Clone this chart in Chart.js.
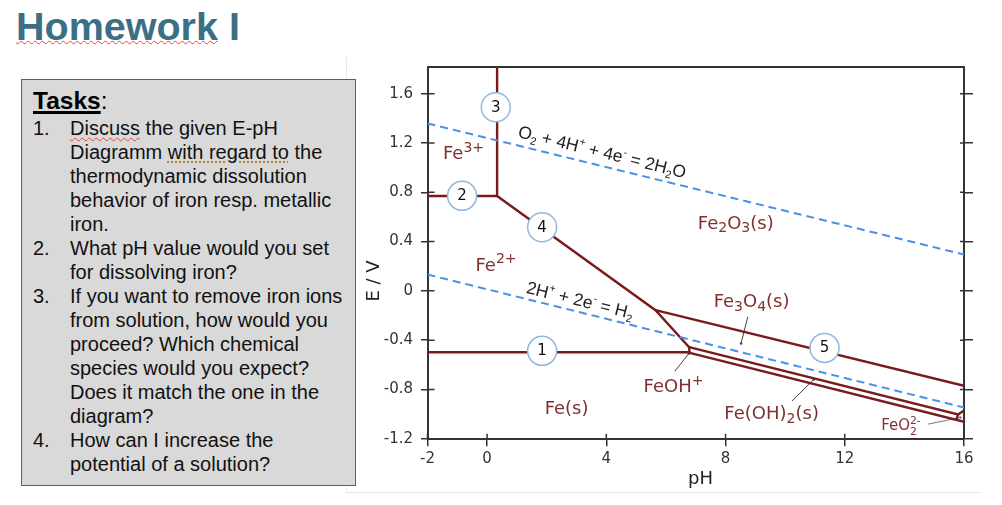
<!DOCTYPE html>
<html><head><meta charset="utf-8">
<script src="https://cdn.jsdelivr.net/npm/chart.js@4/dist/chart.umd.min.js"></script>
<style>
html,body{margin:0;padding:0;background:#fff;width:1002px;height:505px;overflow:hidden}
#title{position:absolute;left:16px;top:2px;font:bold 39.5px/48px "Liberation Sans",sans-serif;color:#3a6f85;white-space:pre}
#title .w{text-decoration:underline wavy #e2483f 1px;text-underline-offset:0px}
#edgeL{position:absolute;left:346px;top:57px;width:1px;height:435px;background:#e8e8ec}
#edgeB{position:absolute;left:346px;top:492px;width:634px;height:1px;background:#e3e6ec}
#box{position:absolute;left:21px;top:79px;width:333px;height:405px;background:#d9d9d9;border:1.5px solid #3d6b7e}
#tasks{position:absolute;left:33px;top:86px;font:24.5px/30px "Liberation Sans",sans-serif;color:#000}
#tasks b{text-decoration:underline;text-decoration-thickness:3px;text-underline-offset:2px}
#list{position:absolute;left:33px;top:116px;font:20px/24px "Liberation Sans",sans-serif;color:#111;white-space:pre}
#list .n{position:absolute;left:0}
#list .t{position:absolute;left:37px;width:300px}
.sp{text-decoration:underline wavy #e2483f 1px;text-underline-offset:2px}
.gr{text-decoration:underline dotted #b8862b 2px;text-underline-offset:2px}
canvas{position:absolute;left:346px;top:51px}
</style></head><body>
<div id="title"><span class="w">Homework</span> I</div>
<div id="edgeL"></div><div id="edgeB"></div>
<div id="box"></div>
<div id="tasks"><b>Tasks</b>:</div>
<div id="list">
<div class="n" style="top:0">1.</div><div class="t" style="top:0"><span class="sp">Discuss</span> the given E-pH
Diagramm <span class="gr">with regard to</span> the
thermodynamic dissolution
behavior of iron resp. metallic
iron.</div>
<div class="n" style="top:120px">2.</div><div class="t" style="top:120px">What pH value would you set
for dissolving iron?</div>
<div class="n" style="top:168px">3.</div><div class="t" style="top:168px">If you want to remove iron ions
from solution, how would you
proceed? Which chemical
species would you expect?
Does it match the one in the
diagram?</div>
<div class="n" style="top:312px">4.</div><div class="t" style="top:312px">How can I increase the
potential of a solution?</div>
</div>
<canvas id="c" width="634" height="441"></canvas>
<script>
const xTicks = [-2, 0, 4, 8, 12, 16];
const yTicks = [1.6, 1.2, 0.8, 0.4, 0, -0.4, -0.8, -1.2];

const waterO2 = [[-2, 1.359], [16, 0.295]];
const waterH2 = [[-2, 0.133], [16, -0.947]];

const line1 = [[-2, -0.498], [6.80, -0.498]];
const line2 = [[-2, 0.77], [0.335, 0.77]];
const line3 = [[0.335, 1.82], [0.335, 0.77]];
const line4 = [[0.335, 0.77], [5.65, -0.157], [6.77, -0.455], [6.80, -0.503]];
const line5 = [[5.65, -0.157], [16, -0.771]];
const feOH2Upper = [[6.77, -0.455], [6.88, -0.463], [15.8, -1.003], [16, -0.971]];
const feOH2Lower = [[6.80, -0.503], [16, -1.063]];
const feO2Side = [[15.8, -1.003], [15.75, -1.045]];

const leaderFeOH = [[6.30, -0.652], [6.77, -0.508]];
const leaderFe3O4 = [[8.745, -0.211], [8.52, -0.427]];
const leaderFeOH2 = [[10.23, -0.893], [10.96, -0.719]];
const leaderFeO2 = [[14.79, -1.082], [15.88, -1.028]];

const circleNames = ["1", "2", "3", "4", "5"];
const circleX = [1.845, -0.84, 0.29, 1.845, 11.32];
const circleY = [-0.487, 0.771, 1.49, 0.517, -0.463];

const regionNames = ["Fe^{3+}", "Fe^{2+}", "Fe_{2}O_{3}(s)", "Fe_{3}O_{4}(s)", "FeOH^{+}", "Fe(s)", "Fe(OH)_{2}(s)"];
const regionX = [-1.48, -0.39, 7.07, 7.6, 5.25, 1.93, 7.96];
const regionY = [1.069, 0.162, 0.506, -0.13, -0.825, -1.003, -1.041];
const smallName = "FeO~{2-|2}";
const smallAt = [13.22, -1.131];

const reactionO2 = "O_{2} + 4H^{+} + 4e^{-} = 2H_{2}O";
const reactionO2At = [1.01, 1.248];
const reactionH2 = "2H^{+} + 2e^{-} = H_{2}";
const reactionH2At = [1.285, -0.016];
const xAxisTitle = "pH";
const yAxisTitle = "E / V";

const MAROON = "#7a1a1a", LABEL = "#7f3030", BLUE = "#4a90e8", AXIS = "#333", DARK = "#444";
const pts = a => a.map(p => ({x: p[0], y: p[1]}));
const ln = (a, color, w, dash) => ({type: "scatter", data: pts(a), showLine: true, tension: 0,
  borderColor: color, backgroundColor: color, borderWidth: w, borderDash: dash || [], pointRadius: 0, pointHoverRadius: 0, borderJoinStyle: "miter"});
const leader = (a, color) => Object.assign(ln(a, color, 1), {pointRadius: [0, 1.3], pointBorderWidth: 0});

function tokens(s) {
  const re = /\^\{([^}]*)\}|_\{([^}]*)\}|~\{([^|}]*)\|([^}]*)\}|([^\^_~]+)/g, out = []; let m;
  while ((m = re.exec(s))) {
    if (m[1] !== undefined) out.push({k: "sup", t: m[1]});
    else if (m[2] !== undefined) out.push({k: "sub", t: m[2]});
    else if (m[3] !== undefined) out.push({k: "both", t: m[3], b: m[4]});
    else out.push({k: "n", t: m[5]});
  }
  return out;
}
function rich(ctx, x, y, s, size, color, angle, fam, ratio) {
  ctx.save();
  ctx.translate(x, y); ctx.rotate(angle || 0);
  ctx.fillStyle = color; ctx.textBaseline = "alphabetic"; ctx.textAlign = "left";
  const small = size * ratio; let cx = 0;
  for (const t of tokens(s)) {
    if (t.k === "n") { ctx.font = size + "px " + fam; ctx.fillText(t.t, cx, 0); cx += ctx.measureText(t.t).width; }
    else if (t.k === "sup") { ctx.font = small + "px " + fam; ctx.fillText(t.t, cx, -size * 0.42); cx += ctx.measureText(t.t).width; }
    else if (t.k === "sub") { ctx.font = small + "px " + fam; ctx.fillText(t.t, cx, size * 0.22); cx += ctx.measureText(t.t).width; }
    else { ctx.font = small + "px " + fam; ctx.fillText(t.t, cx, -size * 0.42); ctx.fillText(t.b, cx, size * 0.3); cx += ctx.measureText(t.t).width; }
  }
  ctx.restore();
}

const DV = '"DejaVu Sans"', LS = '"Liberation Sans"';
const overlay = {
  id: "overlay",
  afterDraw(chart) {
    const {ctx, chartArea: a, scales: {x, y}} = chart;
    ctx.save();
    ctx.strokeStyle = AXIS; ctx.lineWidth = 1.5;
    ctx.beginPath();
    y.ticks.forEach(t => {
      const p = y.getPixelForValue(t.value);
      ctx.moveTo(a.left, p); ctx.lineTo(a.left + 7, p);
      ctx.moveTo(a.right, p); ctx.lineTo(a.right - 4, p);
    });
    x.ticks.forEach(t => {
      const p = x.getPixelForValue(t.value);
      ctx.moveTo(p, a.bottom); ctx.lineTo(p, a.bottom - 5);
    });
    ctx.stroke();
    ctx.restore();

    const X = v => x.getPixelForValue(v), Y = v => y.getPixelForValue(v);
    regionNames.forEach((n, i) => rich(ctx, X(regionX[i]), Y(regionY[i]), n, 18, LABEL, 0, DV, 0.78));
    rich(ctx, X(smallAt[0]), Y(smallAt[1]), smallName, 15, LABEL, 0, DV, 0.72);
    const ang = Math.atan2(41, 167);
    rich(ctx, X(reactionO2At[0]), Y(reactionO2At[1]), reactionO2, 17.4, "#222", ang, LS, 0.62);
    rich(ctx, X(reactionH2At[0]), Y(reactionH2At[1]), reactionH2, 17.4, "#222", ang, LS, 0.62);

    ctx.save();
    ctx.fillStyle = "#111"; ctx.font = "15px " + DV; ctx.textAlign = "center"; ctx.textBaseline = "middle";
    circleNames.forEach((n, i) => ctx.fillText(n, X(circleX[i]), Y(circleY[i]) + 0.5));
    ctx.fillStyle = "#222"; ctx.font = "18px " + DV; ctx.textBaseline = "alphabetic";
    ctx.fillText(xAxisTitle, 700.5 - 346, 484 - 51);
    ctx.translate(379.3 - 346, 281 - 51); ctx.rotate(-Math.PI / 2);
    ctx.fillText(yAxisTitle, 0, 0);
    ctx.restore();
  }
};

const tickSetter = list => s => { s.ticks = list.map(v => ({value: v})); };
const noPad = s => { s.paddingTop = s.paddingBottom = s.paddingLeft = s.paddingRight = 0; };
const gridOut = len => ({drawOnChartArea: false, drawTicks: true, tickLength: len, color: AXIS, tickColor: AXIS, tickWidth: 1.5, lineWidth: 1.5});
const bd = {display: true, color: AXIS, width: 2};
const tickFont = {family: "DejaVu Sans", size: 15};

new Chart(document.getElementById("c"), {
  type: "scatter",
  data: {datasets: [
    {type: "scatter", data: circleX.map((v, i) => ({x: v, y: circleY[i]})), showLine: false, pointRadius: 14.5, pointHoverRadius: 14.5,
     pointBackgroundColor: "#fff", pointBorderColor: "#8fb9e0", pointBorderWidth: 1.5, clip: false},
    ln(waterO2, BLUE, 2, [8, 5]), ln(waterH2, BLUE, 2, [8, 5]),
    ln(line1, MAROON, 2.4), ln(line2, MAROON, 2.4), ln(line3, MAROON, 2.4), ln(line4, MAROON, 2.4), ln(line5, MAROON, 2.4),
    ln(feOH2Upper, MAROON, 2.4), ln(feOH2Lower, MAROON, 2.4), ln(feO2Side, MAROON, 2.4),
    leader(leaderFeOH, DARK), leader(leaderFe3O4, DARK), leader(leaderFeOH2, DARK), leader(leaderFeO2, "#777")
  ]},
  options: {
    responsive: false, animation: false, events: [],
    layout: {padding: {top: 4, left: 0, right: 0, bottom: 0}},
    plugins: {legend: {display: false}, tooltip: {enabled: false}, title: {display: false}},
    scales: {
      x: {type: "linear", position: "bottom", min: -2, max: 16,
        afterBuildTicks: tickSetter(xTicks), afterFit: s => { s.height = 53.3; noPad(s); },
        grid: gridOut(7.5), border: bd,
        ticks: {font: tickFont, color: AXIS, padding: 4, maxRotation: 0, autoSkip: false, callback: v => String(v)}},
      xTop: {type: "linear", position: "top", axis: "x", min: -2, max: 16,
        afterFit: s => { s.height = 0; noPad(s); },
        grid: {drawOnChartArea: false, drawTicks: false}, border: bd, ticks: {display: false}},
      y: {type: "linear", position: "left", min: -1.2, max: 1.817,
        afterBuildTicks: tickSetter(yTicks), afterFit: s => { s.width = 81.5; noPad(s); },
        grid: gridOut(6.5), border: bd,
        ticks: {font: tickFont, color: AXIS, padding: 8, autoSkip: false, callback: v => String(v)}},
      yRight: {type: "linear", position: "right", axis: "y", min: -1.2, max: 1.817,
        afterBuildTicks: tickSetter(yTicks), afterFit: s => { s.width = 16; noPad(s); },
        grid: gridOut(9), border: bd, ticks: {display: false}}
    }
  },
  plugins: [overlay]
});
</script>
</body></html>
